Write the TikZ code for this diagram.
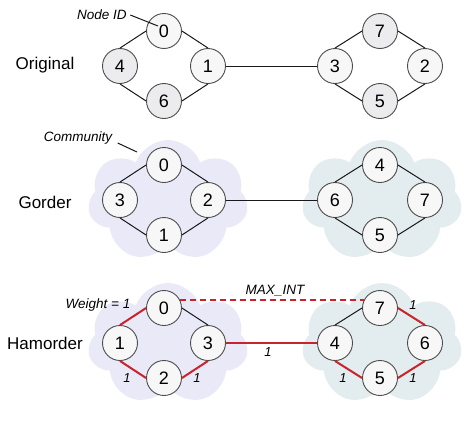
\documentclass[tikz,border=0pt]{standalone}
\usepackage{fontspec}
\setmainfont{Liberation Sans}
\usetikzlibrary{shapes.symbols}

\definecolor{vlight}{HTML}{F7F7F7}
\definecolor{vdark}{HTML}{ECECEF}
\definecolor{commleft}{HTML}{EAE9F7}
\definecolor{commright}{HTML}{E3ECEE}
\definecolor{hamred}{HTML}{C9242B}

\tikzset{
    vtx/.style={circle, draw=black!70, line width=0.9pt, minimum size=35pt, inner sep=0pt,
        font=\fontsize{18}{20}\selectfont},
    link/.style={draw=black!90, line width=1pt},
    hamlink/.style={draw=hamred, line width=2pt},
    comm/.style={cloud, cloud puffs=7, cloud puff arc=140, aspect=1.3, draw=none,
        minimum width=160pt, minimum height=122pt, inner sep=0pt},
    rowlabel/.style={font=\fontsize{17}{19}\selectfont},
    note/.style={font=\fontsize{13.5}{15}\selectfont\itshape},
    wgt/.style={font=\fontsize{13}{15}\selectfont\itshape},
}

\begin{document}
\begin{tikzpicture}[x=1pt, y=-1pt]
    \useasboundingbox (0,0) rectangle (474,421);

    % communities
    \node[comm, fill=commleft]  (gL) at (168,201) {};
    \node[comm, fill=commright] (gR) at (382,201) {};
    \node[comm, fill=commleft]  (hL) at (168,344) {};
    \node[comm, fill=commright] (hR) at (382,344) {};

    % row labels
    \node[rowlabel] (lo) at (45,65) {Original};
    \node[rowlabel] (lg) at (45,202) {Gorder};
    \node[rowlabel] (lh) at (45,343) {Hamorder};

    % original
    \foreach \n/\x/\y/\c in {0/164/31/vlight, 4/120/66/vdark, 1/208/66/vlight, 6/164/101/vdark,
                             7/380/31/vdark, 3/335/66/vlight, 2/425/66/vlight, 5/380/101/vdark}
        \node[vtx, fill=\c] (o\n) at (\x,\y) {\n};
    \foreach \a/\b in {0.west/4.north, 0.east/1.north, 4.south/6.west, 6.east/1.south, 1.east/3.west,
                       7.west/3.north, 7.east/2.north, 3.south/5.west, 5.east/2.south}
        \draw[link] (o\a) -- (o\b);

    % gorder
    \foreach \n/\x/\y in {0/164/165, 3/120/200, 2/208/200, 1/164/235,
                          4/380/165, 6/335/200, 7/425/200, 5/380/235}
        \node[vtx, fill=vlight] (g\n) at (\x,\y) {\n};
    \foreach \a/\b in {0.west/3.north, 0.east/2.north, 3.south/1.west, 1.east/2.south, 2.east/6.west,
                       4.west/6.north, 4.east/7.north, 6.south/5.west, 5.east/7.south}
        \draw[link] (g\a) -- (g\b);

    % hamorder
    \foreach \n/\x/\y in {0/164/308, 1/120/343, 3/208/343, 2/164/378,
                          7/380/308, 4/335/343, 6/425/343, 5/380/378}
        \node[vtx, fill=vlight] (h\n) at (\x,\y) {\n};
    \draw[link] (h0.east) -- (h3.north);
    \draw[link] (h7.west) -- (h4.north);
    \foreach \a/\b in {0.west/1.north, 1.south/2.west, 2.east/3.south, 3.east/4.west,
                       4.south/5.west, 5.east/6.south, 6.north/7.east}
        \draw[hamlink] (h\a) -- (h\b);
    \draw[hamlink, dash pattern=on 6pt off 4pt] (h0.25) -- (h7.155);

    % notes
    \node[note] (nid) at (102,15) {Node ID};
    \draw[link] (nid.east) -- ([shift={(-6,-5)}]o0.center);
    \node[note] (ncomm) at (78,138) {Community};
    \coordinate (ccomm) at (137,152);
    \draw[link] ([xshift=2pt,yshift=-5pt]ncomm.east) -- (ccomm);
    \node[note] (nwgt) at (98,305) {Weight = 1};
    \node[note] (nmax) at (275,291) {MAX\_INT};

    % weights
    \foreach \x/\y [count=\k] in {127/378, 197/378, 268/352, 413/305, 343/378, 413/378}
        \node[wgt] (w\k) at (\x,\y) {1};
\end{tikzpicture}
\end{document}
